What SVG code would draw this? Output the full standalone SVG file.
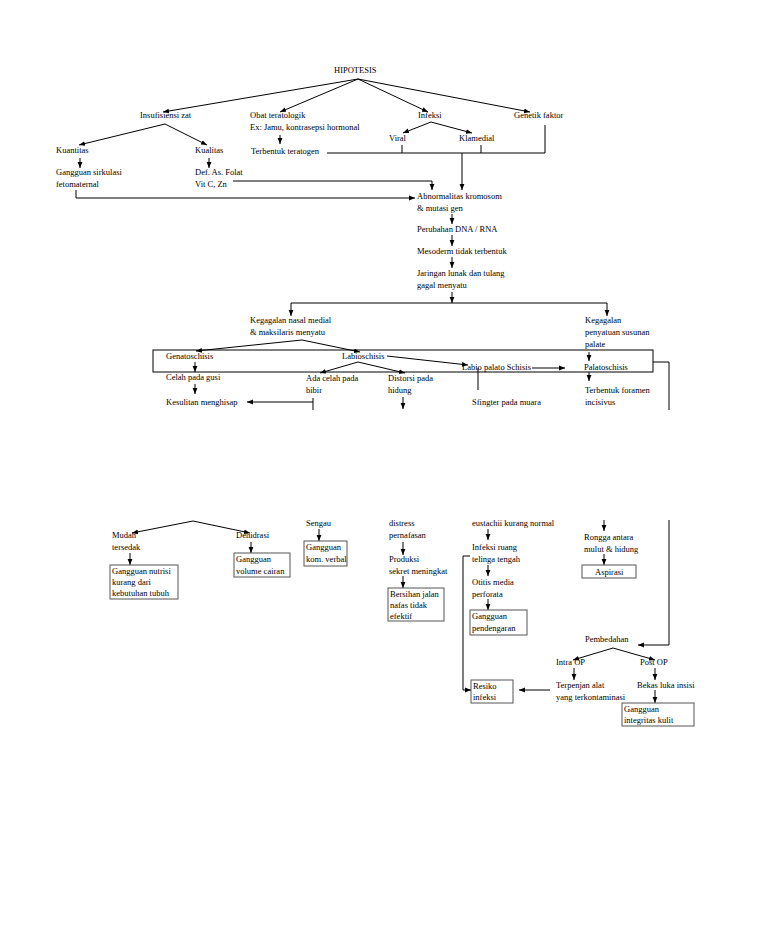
<svg xmlns="http://www.w3.org/2000/svg" width="768" height="932" viewBox="0 0 768 932">
<defs>
<marker id="a" viewBox="0 0 10 10" refX="10" refY="5" markerWidth="6" markerHeight="6" orient="auto"><path d="M0,1 L10,5 L0,9 z" fill="#000"/></marker>
<style>
text{font-family:"Liberation Serif",serif;font-size:8.5px;fill:#000}
.l{stroke:#000;stroke-width:1;fill:none}
.ar{stroke:#000;stroke-width:1;fill:none;marker-end:url(#a)}
.b{stroke:#555;stroke-width:1;fill:#fff}
</style>
</defs>
<rect width="768" height="932" fill="#fff"/>
<g id="connectors">
<path class="ar" d="M358,79 L163,112"/><path class="ar" d="M358,79 L280,112"/><path class="ar" d="M358,79 L428,112"/><path class="ar" d="M358,79 L530,112"/>
<path class="ar" d="M280,135 V144"/>
<path class="l" d="M327,153 H545 V125"/>
<path class="ar" d="M431,122 L403,133"/><path class="ar" d="M431,122 L472,133"/>
<path class="l" d="M402,145 V153 M481,145 V153"/>
<path class="ar" d="M462,153 V190"/>
<path class="ar" d="M165,124 L79,145"/><path class="ar" d="M165,124 L207,145"/>
<path class="ar" d="M80,158 V168"/><path class="ar" d="M209,158 V168"/>
<path class="ar" d="M233,181 H432 V190"/>
<path class="ar" d="M76,190 V198 H415"/>
<path class="ar" d="M452,214 V224"/><path class="ar" d="M452,235 V246"/><path class="ar" d="M452,257 V268"/><path class="ar" d="M452,292 V303"/>
<path class="l" d="M291,303 H607"/><path class="ar" d="M291,303 V316"/><path class="ar" d="M607,303 V316"/>
<path class="ar" d="M302,340 L196,351"/><path class="ar" d="M302,340 L360,352"/>
<rect class="l" x="153" y="350" width="500" height="22"/>
<path class="ar" d="M387,356 L468,365"/><path class="ar" d="M532,368 H565"/><path class="ar" d="M589,352 V361"/>
<path class="l" d="M653,362 H669 V410"/>
<path class="ar" d="M195,362 V372"/><path class="ar" d="M195,384 V394"/>
<path class="ar" d="M313,402 H247"/><path class="l" d="M313,398 V410"/>
<path class="ar" d="M358,362 L320,373"/><path class="ar" d="M358,362 L405,373"/>
<path class="ar" d="M403,397 V409"/>
<path class="l" d="M478,368 V390"/>
<path class="ar" d="M589,372 V381"/>
<path class="ar" d="M193,521 L132,533"/><path class="ar" d="M193,521 L250,533"/>
<path class="ar" d="M130,553 V565"/><path class="ar" d="M251,542 V553"/><path class="ar" d="M319,529 V541"/>
<path class="ar" d="M403,542 V555"/><path class="ar" d="M403,576 V588"/>
<path class="ar" d="M488,529 V540"/><path class="ar" d="M488,565 V576"/><path class="ar" d="M488,599 V610"/>
<path class="ar" d="M470,556 H463 V690 H471"/>
<path class="ar" d="M604,520 V531"/><path class="ar" d="M604,554 V565"/>
<path class="ar" d="M669,520 V645 H638"/>
<path class="ar" d="M613,648 L573,660"/><path class="ar" d="M613,648 L655,660"/>
<path class="ar" d="M574,668 V680"/><path class="ar" d="M655,668 V680"/>
<path class="ar" d="M550,690 H519"/><path class="ar" d="M655,690 V703"/>
</g>
<g id="n-hipotesis"><text x="334" y="73">HIPOTESIS</text></g>
<g id="n-insuf"><text x="140" y="118">Insufisiensi zat</text></g>
<g id="n-obat"><text x="250" y="118">Obat teratologik</text><text x="250" y="130">Ex: Jamu, kontrasepsi hormonal</text></g>
<g id="n-teratogen"><text x="251" y="154">Terbentuk teratogen</text></g>
<g id="n-infeksi"><text x="418" y="118">Infeksi</text></g>
<g id="n-genetik"><text x="514" y="118">Genetik faktor</text></g>
<g id="n-viral"><text x="389" y="141">Viral</text></g>
<g id="n-klamedial"><text x="459" y="141">Klamedial</text></g>
<g id="n-kuantitas"><text x="56" y="153">Kuantitas</text></g>
<g id="n-kualitas"><text x="195" y="153">Kualitas</text></g>
<g id="n-sirkulasi"><text x="56" y="175">Gangguan sirkulasi</text><text x="56" y="187">fetomaternal</text></g>
<g id="n-folat"><text x="195" y="175">Def. As. Folat</text><text x="195" y="187">Vit C, Zn</text></g>
<g id="n-abnormal"><text x="417" y="199">Abnormalitas kromosom</text><text x="417" y="211">&amp; mutasi gen</text></g>
<g id="n-dna"><text x="417" y="232">Perubahan DNA / RNA</text></g>
<g id="n-mesoderm"><text x="417" y="254">Mesoderm tidak terbentuk</text></g>
<g id="n-jaringan"><text x="417" y="276">Jaringan lunak dan tulang</text><text x="417" y="288">gagal menyatu</text></g>
<g id="n-nasal"><text x="250" y="323">Kegagalan nasal medial</text><text x="250" y="335">&amp; maksilaris menyatu</text></g>
<g id="n-palate"><text x="585" y="323">Kegagalan</text><text x="585" y="335">penyatuan susunan</text><text x="585" y="347">palate</text></g>
<g id="n-genato"><text x="166" y="359">Genatoschisis</text></g>
<g id="n-labio"><text x="342" y="359">Labioschisis</text></g>
<g id="n-labiopalato"><text x="462" y="370">Labio palato Schisis</text></g>
<g id="n-palato"><text x="584" y="370">Palatoschisis</text></g>
<g id="n-celahgusi"><text x="166" y="380">Celah pada gusi</text></g>
<g id="n-menghisap"><text x="166" y="405">Kesulitan menghisap</text></g>
<g id="n-celahbibir"><text x="306" y="381">Ada celah pada</text><text x="306" y="393">bibir</text></g>
<g id="n-distorsi"><text x="388" y="381">Distorsi pada</text><text x="388" y="393">hidung</text></g>
<g id="n-sfingter"><text x="472" y="405">Sfingter pada muara</text></g>
<g id="n-foramen"><text x="585" y="393">Terbentuk foramen</text><text x="585" y="405">incisivus</text></g>
<g id="n-mudah"><text x="112" y="538">Mudah</text><text x="112" y="550">tersedak</text></g>
<g id="n-nutrisi"><rect class="b" x="110" y="565" width="68" height="34"/><text x="112" y="574">Gangguan nutrisi</text><text x="112" y="585">kurang dari</text><text x="112" y="596">kebutuhan tubuh</text></g>
<g id="n-dehidrasi"><text x="236" y="538">Dehidrasi</text></g>
<g id="n-volume"><rect class="b" x="234" y="553" width="56" height="24"/><text x="236" y="562">Gangguan</text><text x="236" y="574">volume cairan</text></g>
<g id="n-sengau"><text x="306" y="526">Sengau</text></g>
<g id="n-verbal"><rect class="b" x="304" y="541" width="43" height="25"/><text x="306" y="550">Gangguan</text><text x="306" y="562">kom. verbal</text></g>
<g id="n-distress"><text x="389" y="526">distress</text><text x="389" y="538">pernafasan</text></g>
<g id="n-sekret"><text x="389" y="562">Produksi</text><text x="389" y="574">sekret meningkat</text></g>
<g id="n-bersihan"><rect class="b" x="388" y="588" width="56" height="33"/><text x="390" y="597">Bersihan jalan</text><text x="390" y="608">nafas tidak</text><text x="390" y="619">efektif</text></g>
<g id="n-eustachii"><text x="472" y="526">eustachii kurang normal</text></g>
<g id="n-infeksiruang"><text x="472" y="550">Infeksi ruang</text><text x="472" y="562">telinga tengah</text></g>
<g id="n-otitis"><text x="472" y="585">Otitis media</text><text x="472" y="597">perforata</text></g>
<g id="n-pendengaran"><rect class="b" x="470" y="610" width="57" height="25"/><text x="472" y="619">Gangguan</text><text x="472" y="631">pendengaran</text></g>
<g id="n-rongga"><text x="584" y="540">Rongga antara</text><text x="584" y="552">mulut &amp; hidung</text></g>
<g id="n-aspirasi"><rect class="b" x="582" y="565" width="54" height="13"/><text x="595" y="575">Aspirasi</text></g>
<g id="n-pembedahan"><text x="585" y="642">Pembedahan</text></g>
<g id="n-intra"><text x="556" y="665">Intra OP</text></g>
<g id="n-post"><text x="640" y="665">Post OP</text></g>
<g id="n-terpenjan"><text x="556" y="688">Terpenjan alat</text><text x="556" y="700">yang terkontaminasi</text></g>
<g id="n-resiko"><rect class="b" x="471" y="680" width="42" height="23"/><text x="473" y="689">Resiko</text><text x="473" y="700">infeksi</text></g>
<g id="n-bekas"><text x="637" y="688">Bekas luka insisi</text></g>
<g id="n-integritas"><rect class="b" x="622" y="703" width="72" height="23"/><text x="624" y="712">Gangguan</text><text x="624" y="723">integritas kulit</text></g>
</svg>
